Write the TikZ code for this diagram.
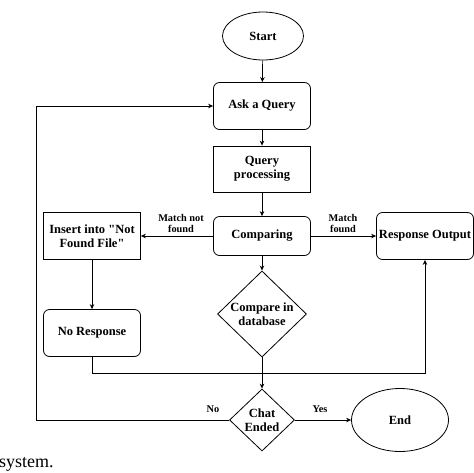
\documentclass[tikz,border=0pt]{standalone}
\usepackage{fontspec}
\setmainfont{Liberation Serif}
\usetikzlibrary{shapes.geometric,arrows.meta}
\begin{document}
\begin{tikzpicture}[x=1pt,y=-1pt,
 base/.style={draw,line width=0.8pt,font=\bfseries\fontsize{12.5}{14}\selectfont,align=center,inner sep=0pt},
 boxr/.style={base,rectangle,rounded corners=6pt,minimum width=97pt,minimum height=47pt},
 boxs/.style={base,rectangle,minimum width=97pt,minimum height=47pt},
 ell/.style={base,ellipse},
 dia/.style={base,diamond},
 lbl/.style={font=\bfseries\fontsize{10.3}{11}\selectfont,align=center,inner sep=0pt},
 arr/.style={-{Stealth[length=5pt,width=4.5pt]},line width=0.7pt},
 ln/.style={line width=0.7pt}]
\useasboundingbox (0,0) rectangle (474,472);
\node[ell,minimum width=81pt,minimum height=48pt] (start) at (263,36) {Start};
\node[boxr] (ask) at (262,106) {Ask a Query};
\node[boxs,minimum height=46pt] (proc) at (262,169) {Query\\processing};
\node[boxr,minimum height=39pt] (cmp) at (262,236) {Comparing};
\node[boxs] (ins) at (92,236) {Insert into \textquotedbl Not\\Found File\textquotedbl};
\node[boxr] (resp) at (425,236) {Response Output};
\node[dia,minimum width=89pt,minimum height=84pt] (db) at (262,314) {Compare in\\database};
\node[boxr] (nor) at (92,333) {No Response};
\node[dia,minimum width=65pt,minimum height=62pt] (chat) at (262,420) {Chat\\Ended};
\node[ell,minimum width=97pt,minimum height=63pt] (end) at (400,420) {End};
\node[lbl] (l1) at (181,223) {Match not\\found};
\node[lbl] (l2) at (343,223) {Match\\found};
\node[lbl] (no) at (213,409) {No};
\node[lbl] (yes) at (320,409) {Yes};
\node[font=\fontsize{18}{19}\selectfont,anchor=base west,inner sep=0pt] (cap) at (-1,467) {system.};
\coordinate (m2) at (425,373);
\coordinate (lp) at (36,420);
\draw[arr] (start) -- (ask);
\draw[arr] (ask) -- (proc);
\draw[arr] (proc) -- (cmp);
\draw[arr] (cmp) -- (ins);
\draw[arr] (cmp) -- (resp);
\draw[arr] (cmp) -- (db);
\draw[arr] (ins) -- (nor);
\draw[arr] (db) -- (chat);
\draw[arr] (chat) -- (end);
\draw[arr] (nor.south) |- (m2) -- (resp.south);
\draw[arr] (chat.west) -- (lp) |- (ask.west);
\end{tikzpicture}
\end{document}
